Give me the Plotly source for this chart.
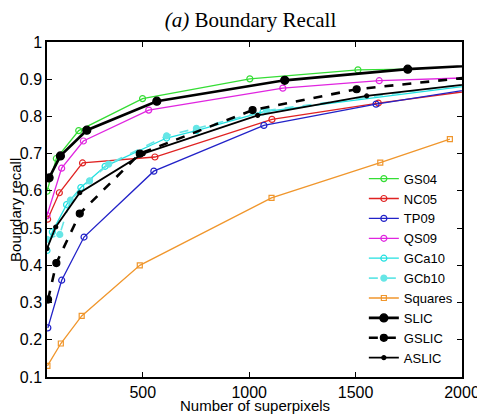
import plotly.graph_objects as go

# data: x = number of superpixels, y = boundary recall
gs04_x = [50, 94, 199, 499, 1003, 1511, 1745]
gs04_y = [0.599, 0.687, 0.762, 0.848, 0.901, 0.925, 0.927]

nc05_x = [53, 108, 217, 557, 1107, 1607, 2150]
nc05_y = [0.524, 0.595, 0.675, 0.691, 0.792, 0.836, 0.877]

tp09_x = [54, 119, 224, 552, 1069, 1596, 2150]
tp09_y = [0.232, 0.360, 0.476, 0.653, 0.776, 0.833, 0.883]

qs09_x = [50, 119, 221, 528, 1158, 1611, 2150]
qs09_y = [0.534, 0.661, 0.734, 0.817, 0.876, 0.896, 0.906]

gca10_x = [50, 75, 142, 209, 323, 612, 752, 1065, 2150]
gca10_y = [0.440, 0.490, 0.563, 0.609, 0.666, 0.742, 0.762, 0.812, 0.891]

gcb10_x = [50, 110, 160, 250, 340, 612, 752, 1082, 2150]
gcb10_y = [0.470, 0.483, 0.575, 0.627, 0.672, 0.748, 0.768, 0.816, 0.897]

squares_x = [52, 115, 213, 486, 1105, 1616, 1943]
squares_y = [0.130, 0.190, 0.264, 0.400, 0.581, 0.676, 0.739]

slic_x = [60, 113, 237, 566, 1167, 1745, 2300]
slic_y = [0.635, 0.694, 0.763, 0.841, 0.897, 0.927, 0.944]

gslic_x = [55, 94, 204, 486, 1016, 1505, 2150]
gslic_y = [0.308, 0.406, 0.539, 0.700, 0.817, 0.873, 0.912]

aslic_x = [50, 91, 204, 502, 1040, 1552, 2150]
aslic_y = [0.445, 0.503, 0.595, 0.700, 0.803, 0.855, 0.895]

series = [
    ("GS04", gs04_x, gs04_y, "#35dd35", "solid", 1.3, "circle-open", 6),
    ("NC05", nc05_x, nc05_y, "#e02222", "solid", 1.3, "circle-open", 6),
    ("TP09", tp09_x, tp09_y, "#2222c8", "solid", 1.3, "circle-open", 6),
    ("QS09", qs09_x, qs09_y, "#e025e0", "solid", 1.3, "circle-open", 6),
    ("GCa10", gca10_x, gca10_y, "#22e0e0", "solid", 1.3, "circle-open", 6),
    ("GCb10", gcb10_x, gcb10_y, "#66e6e6", "dash", 1.6, "circle", 6),
    ("Squares", squares_x, squares_y, "#f0962c", "solid", 1.3, "square-open", 5),
    ("SLIC", slic_x, slic_y, "black", "solid", 2.6, "circle", 8),
    ("GSLIC", gslic_x, gslic_y, "black", "dash", 2.6, "circle", 7),
    ("ASLIC", aslic_x, aslic_y, "black", "solid", 1.8, "circle", 4),
]

fig = go.Figure()
for name, xs, ys, col, dash, lw, sym, ms in series:
    fig.add_trace(go.Scatter(
        x=xs, y=ys, name=name, mode="lines+markers",
        line=dict(color=col, dash=dash, width=lw),
        marker=dict(symbol=sym, size=ms, color=col, line=dict(color=col, width=1.2)),
    ))

axis_style = dict(
    showline=True, linecolor="black", linewidth=1.5, mirror="ticks",
    ticks="inside", ticklen=5, tickcolor="black", showgrid=False, zeroline=False,
    automargin=False,
    tickfont=dict(family="Liberation Sans, Arial", size=16, color="black"),
)

# page body adds an 8px offset, margins are set with that in mind
fig.update_layout(
    width=485, height=414,
    margin=dict(l=39, r=31, t=34, b=45),
    paper_bgcolor="white", plot_bgcolor="white",
    showlegend=True,
    title=dict(
        text="<i>(a)</i> Boundary Recall",
        x=0.5, xanchor="center", y=0.972, yanchor="middle",
        font=dict(family="Liberation Serif, Times New Roman", size=21, color="black"),
    ),
    xaxis=dict(range=[50, 2000], tickvals=[500, 1000, 1500, 2000], ticklabelstandoff=0,
               **axis_style),
    yaxis=dict(
        range=[0.1, 1.0], tickvals=[0.1, 0.2, 0.3, 0.4, 0.5, 0.6, 0.7, 0.8, 0.9, 1.0],
        ticktext=["0.1", "0.2", "0.3", "0.4", "0.5", "0.6", "0.7", "0.8", "0.9", "1"],
        **axis_style,
    ),
    legend=dict(
        x=0.99, xanchor="right", y=0.01, yanchor="bottom",
        bgcolor="rgba(0,0,0,0)", borderwidth=0, tracegroupgap=0,
        font=dict(family="Liberation Sans, Arial", size=13, color="black"),
        itemwidth=30,
    ),
    annotations=[
        dict(text="Number of superpixels", xref="paper", yref="paper",
             x=0.5, y=-0.085, xanchor="center", yanchor="middle", showarrow=False,
             font=dict(family="Liberation Sans, Arial", size=15, color="black")),
        dict(text="Boundary recall", xref="paper", yref="paper", textangle=-90,
             x=-0.076, y=0.5, xanchor="center", yanchor="middle", showarrow=False,
             font=dict(family="Liberation Sans, Arial", size=15, color="black")),
    ],
)

fig.write_html("out.html")
